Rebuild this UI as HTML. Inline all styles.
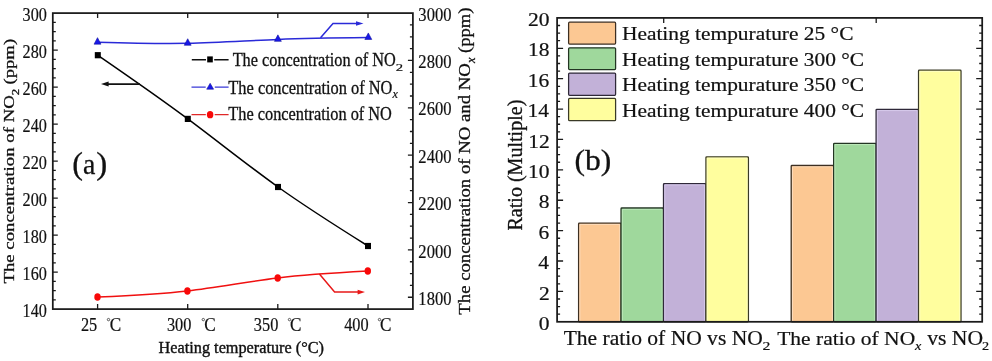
<!DOCTYPE html>
<html><head><meta charset="utf-8"><style>
html,body{margin:0;padding:0;background:#fff;width:992px;height:361px;overflow:hidden}
svg{display:block;will-change:transform}
text{font-family:"Liberation Serif",serif;font-kerning:none;stroke:#111;stroke-width:0.2px}
</style></head><body>
<svg width="992" height="361" viewBox="0 0 992 361">
<rect width="992" height="361" fill="#fff"/>
<path d="M52.8,22.35h3 M52.8,31.6h3 M52.8,40.85h3 M52.8,50.1h5 M52.8,59.35h3 M52.8,68.6h3 M52.8,77.85h3 M52.8,87.1h5 M52.8,96.35h3 M52.8,105.6h3 M52.8,114.85h3 M52.8,124.1h5 M52.8,133.35h3 M52.8,142.6h3 M52.8,151.85h3 M52.8,161.1h5 M52.8,170.35h3 M52.8,179.6h3 M52.8,188.85h3 M52.8,198.1h5 M52.8,207.35h3 M52.8,216.6h3 M52.8,225.85h3 M52.8,235.1h5 M52.8,244.35h3 M52.8,253.6h3 M52.8,262.85h3 M52.8,272.1h5 M52.8,281.35h3 M52.8,290.6h3 M52.8,299.85h3 M412.9,24.94h-3 M412.9,36.78h-3 M412.9,48.62h-3 M412.9,60.46h-5 M412.9,72.3h-3 M412.9,84.14h-3 M412.9,95.98h-3 M412.9,107.82h-5 M412.9,119.66h-3 M412.9,131.5h-3 M412.9,143.34h-3 M412.9,155.18h-5 M412.9,167.02h-3 M412.9,178.86h-3 M412.9,190.7h-3 M412.9,202.54h-5 M412.9,214.38h-3 M412.9,226.22h-3 M412.9,238.06h-3 M412.9,249.9h-5 M412.9,261.74h-3 M412.9,273.58h-3 M412.9,285.42h-3 M412.9,297.26h-5 M97.6,309.1v-5 M97.6,13.1v5 M187.7,309.1v-5 M187.7,13.1v5 M277.8,309.1v-5 M277.8,13.1v5 M368,309.1v-5 M368,13.1v5" stroke="#1a1a1a" stroke-width="1.3" fill="none"/>
<path d="M97.8,55.2 C127.8,75.86 157.8,96.51 187.8,118.9 C217.87,141.34 247.93,165.51 278,187 C308,208.44 338,227.22 368,246" stroke="#000" stroke-width="1.5" fill="none"/>
<path d="M97.5,42.2 C127.57,43.06 157.63,43.91 187.7,43.3 C217.77,42.69 247.83,40.61 277.9,39.4 C308.03,38.19 338.17,37.84 368.3,37.5" stroke="#2a2ad8" stroke-width="1.5" fill="none"/>
<path d="M97.5,297 C127.47,295.71 157.43,294.42 187.4,290.9 C217.5,287.37 247.6,281.59 277.7,277.9 C307.73,274.22 337.77,272.61 367.8,271" stroke="#f01010" stroke-width="1.5" fill="none"/>
<rect x="94.8" y="52.1" width="6" height="6.2" fill="#000"/>
<rect x="184.8" y="115.8" width="6" height="6.2" fill="#000"/>
<rect x="275" y="183.9" width="6" height="6.2" fill="#000"/>
<rect x="365" y="242.9" width="6" height="6.2" fill="#000"/>
<path d="M97.5,37.65 L100.95,44.15 L94.05,44.15Z" fill="#1818e8" stroke="#1010a0" stroke-width="0.6" stroke-linejoin="round"/>
<path d="M187.7,38.75 L191.15,45.25 L184.25,45.25Z" fill="#1818e8" stroke="#1010a0" stroke-width="0.6" stroke-linejoin="round"/>
<path d="M277.9,34.85 L281.35,41.35 L274.45,41.35Z" fill="#1818e8" stroke="#1010a0" stroke-width="0.6" stroke-linejoin="round"/>
<path d="M368.3,32.95 L371.75,39.45 L364.85,39.45Z" fill="#1818e8" stroke="#1010a0" stroke-width="0.6" stroke-linejoin="round"/>
<ellipse cx="97.5" cy="297" rx="3.2" ry="3.75" fill="#f80808"/>
<ellipse cx="187.4" cy="290.9" rx="3.2" ry="3.75" fill="#f80808"/>
<ellipse cx="277.7" cy="277.9" rx="3.2" ry="3.75" fill="#f80808"/>
<ellipse cx="367.8" cy="271" rx="3.2" ry="3.75" fill="#f80808"/>
<path d="M139.9,84.1H107" stroke="#111" stroke-width="1.8" fill="none"/>
<path d="M101,84.1 L108.6,81.6 L108.6,86.6Z" fill="#111"/>
<path d="M320.5,37.7 L333,23.5 H357" stroke="#2a2ad8" stroke-width="1.5" fill="none"/>
<path d="M363.5,23.5 L356,21.3 L356,25.7Z" fill="#2a2ad8"/>
<path d="M319.4,273.9 L334.6,292.1 H358" stroke="#e81818" stroke-width="1.5" fill="none"/>
<path d="M365,292.1 L357.6,289.8 L357.6,294.4Z" fill="#e81818"/>
<path d="M191.8,59.8H206 M214.2,59.8H228.6" stroke="#111" stroke-width="1.4"/>
<rect x="207.2" y="56.4" width="5.6" height="6.0" fill="#000"/>
<path d="M191.5,87.1H205.7 M214.8,87.1H228.6" stroke="#3a3ad8" stroke-width="1.4"/>
<path d="M210.15,83.3 L213.6,89.2 L206.7,89.2Z" fill="#1818e8" stroke="#1010a0" stroke-width="0.6" stroke-linejoin="round"/>
<path d="M191.5,114.6H205.8 M214.7,114.6H228.6" stroke="#e02828" stroke-width="1.4"/>
<ellipse cx="210.1" cy="114.65" rx="3.25" ry="3.65" fill="#f80808"/>
<rect x="52.8" y="13.1" width="360.1" height="296" stroke="#1a1a1a" stroke-width="1.75" fill="none"/>
<text transform="translate(22.57,20.7) scale(0.8257,1)" font-size="19.6" fill="#111">300</text>
<text transform="translate(22.57,57.7) scale(0.8257,1)" font-size="19.6" fill="#111">280</text>
<text transform="translate(22.57,94.7) scale(0.8257,1)" font-size="19.6" fill="#111">260</text>
<text transform="translate(22.57,131.7) scale(0.8257,1)" font-size="19.6" fill="#111">240</text>
<text transform="translate(22.57,168.7) scale(0.8257,1)" font-size="19.6" fill="#111">220</text>
<text transform="translate(22.57,205.7) scale(0.8257,1)" font-size="19.6" fill="#111">200</text>
<text transform="translate(22.57,242.7) scale(0.8257,1)" font-size="19.6" fill="#111">180</text>
<text transform="translate(22.57,279.7) scale(0.8257,1)" font-size="19.6" fill="#111">160</text>
<text transform="translate(22.57,316.7) scale(0.8257,1)" font-size="19.6" fill="#111">140</text>
<text transform="translate(418.36,20.7) scale(0.8446,1)" font-size="19.6" fill="#111">3000</text>
<text transform="translate(418.36,68.06) scale(0.8446,1)" font-size="19.6" fill="#111">2800</text>
<text transform="translate(418.36,115.42) scale(0.8446,1)" font-size="19.6" fill="#111">2600</text>
<text transform="translate(418.36,162.78) scale(0.8446,1)" font-size="19.6" fill="#111">2400</text>
<text transform="translate(418.36,210.14) scale(0.8446,1)" font-size="19.6" fill="#111">2200</text>
<text transform="translate(418.36,257.5) scale(0.8446,1)" font-size="19.6" fill="#111">2000</text>
<text transform="translate(418.36,304.86) scale(0.8446,1)" font-size="19.6" fill="#111">1800</text>
<text transform="translate(80.93,331.4) scale(0.8415,1)" font-size="19.4" fill="#111">25</text>
<text transform="translate(109.71,331.4) scale(0.8862,1)" font-size="19.4" fill="#111">C</text>
<circle cx="108.5" cy="319.6" r="1.2" stroke="#555" stroke-width="1" fill="none"/>
<text transform="translate(166.97,331.4) scale(0.8415,1)" font-size="19.4" fill="#111">300</text>
<text transform="translate(204.31,331.4) scale(0.8862,1)" font-size="19.4" fill="#111">C</text>
<circle cx="203.3" cy="319.6" r="1.2" stroke="#555" stroke-width="1" fill="none"/>
<text transform="translate(253.87,331.4) scale(0.8415,1)" font-size="19.4" fill="#111">350</text>
<text transform="translate(289.91,331.4) scale(0.8862,1)" font-size="19.4" fill="#111">C</text>
<circle cx="289.5" cy="319.6" r="1.2" stroke="#555" stroke-width="1" fill="none"/>
<text transform="translate(344.17,331.4) scale(0.8415,1)" font-size="19.4" fill="#111">400</text>
<text transform="translate(380.11,331.4) scale(0.8862,1)" font-size="19.4" fill="#111">C</text>
<circle cx="379.5" cy="319.6" r="1.2" stroke="#555" stroke-width="1" fill="none"/>
<text transform="translate(158.61,353.3) scale(0.9563,1)" font-size="17" style="stroke-width:0.4px" fill="#111">Heating temperature (°C)</text>
<text transform="translate(232.67,66) scale(0.8851,1)" font-size="18.4" style="stroke-width:0.3px" fill="#111">The concentration of NO</text>
<text transform="translate(395.64,70.8) scale(1.3170,1)" font-size="11.2" fill="#111">2</text>
<text transform="translate(228.37,93.5) scale(0.8900,1)" font-size="18.4" style="stroke-width:0.3px" fill="#111">The concentration of NO</text>
<text transform="translate(392.38,97.8) scale(0.9053,1)" font-size="13.5" font-style="italic" fill="#111">x</text>
<text transform="translate(228.37,120.4) scale(0.8878,1)" font-size="18.4" style="stroke-width:0.3px" fill="#111">The concentration of NO</text>
<text transform="translate(72.35,174.3) scale(1.0209,1)" font-size="31.5" style="stroke-width:0.3px" fill="#111">(</text>
<text transform="translate(83.03,174) scale(0.9603,1)" font-size="29" style="stroke-width:0.3px" fill="#111">a</text>
<text transform="translate(96.21,174.3) scale(1.0501,1)" font-size="31.5" style="stroke-width:0.3px" fill="#111">)</text>
<text transform="translate(14.3,283.58) rotate(-90) scale(1.1543,0.9400)" font-size="16.3" style="stroke-width:0.3px" fill="#111">The concentration of NO</text>
<text transform="translate(18.5,95.17) rotate(-90) scale(1.1384,1.0000)" font-size="11.2" style="stroke-width:0.3px" fill="#111">2</text>
<text transform="translate(14.3,84.54) rotate(-90) scale(1.1462,0.9400)" font-size="16.3" style="stroke-width:0.3px" fill="#111">(ppm)</text>
<text transform="translate(470.2,314.68) rotate(-90) scale(1.1169,0.9700)" font-size="16.8" style="stroke-width:0.3px" fill="#111">The concentration of NO and NO</text>
<text transform="translate(474.9,63.11) rotate(-90) scale(1.0370,1.0000)" font-size="12" font-style="italic" style="stroke-width:0.3px" fill="#111">x</text>
<text transform="translate(470.2,53.04) rotate(-90) scale(1.1096,0.9700)" font-size="16.8" style="stroke-width:0.3px" fill="#111">(ppm)</text>
<rect x="578.6" y="223.1" width="42.45" height="98.7" rx="0.8" fill="#FCC893" stroke="#3d2f22" stroke-width="1.3"/>
<path d="M579.9,320.8V224.4H619.75V320.8" fill="none" stroke="#fde0c4" stroke-width="0.8"/>
<rect x="621.05" y="208" width="42.45" height="113.8" rx="0.8" fill="#9FD89C" stroke="#233523" stroke-width="1.3"/>
<path d="M622.35,320.8V209.3H662.2V320.8" fill="none" stroke="#c4ecc2" stroke-width="0.8"/>
<rect x="663.5" y="183.6" width="42.45" height="138.2" rx="0.8" fill="#C2B1D8" stroke="#2e2838" stroke-width="1.3"/>
<path d="M664.8,320.8V184.9H704.65V320.8" fill="none" stroke="#dcd0f0" stroke-width="0.8"/>
<rect x="705.95" y="156.8" width="42.45" height="165" rx="0.8" fill="#FFFE9E" stroke="#3a3a26" stroke-width="1.3"/>
<path d="M707.25,320.8V158.1H747.1V320.8" fill="none" stroke="#ffffc8" stroke-width="0.8"/>
<rect x="791.2" y="165.5" width="42.45" height="156.3" rx="0.8" fill="#FCC893" stroke="#3d2f22" stroke-width="1.3"/>
<path d="M792.5,320.8V166.8H832.35V320.8" fill="none" stroke="#fde0c4" stroke-width="0.8"/>
<rect x="833.65" y="143.3" width="42.45" height="178.5" rx="0.8" fill="#9FD89C" stroke="#233523" stroke-width="1.3"/>
<path d="M834.95,320.8V144.6H874.8V320.8" fill="none" stroke="#c4ecc2" stroke-width="0.8"/>
<rect x="876.1" y="109.3" width="42.45" height="212.5" rx="0.8" fill="#C2B1D8" stroke="#2e2838" stroke-width="1.3"/>
<path d="M877.4,320.8V110.6H917.25V320.8" fill="none" stroke="#dcd0f0" stroke-width="0.8"/>
<rect x="918.55" y="70.1" width="42.45" height="251.7" rx="0.8" fill="#FFFE9E" stroke="#3a3a26" stroke-width="1.3"/>
<path d="M919.85,320.8V71.4H959.7V320.8" fill="none" stroke="#ffffc8" stroke-width="0.8"/>
<path d="M557.1,314.2h3 M982.2,314.2h-3 M557.1,306.61h3 M982.2,306.61h-3 M557.1,299.01h3 M982.2,299.01h-3 M557.1,291.41h6 M982.2,291.41h-6 M557.1,283.81h3 M982.2,283.81h-3 M557.1,276.22h3 M982.2,276.22h-3 M557.1,268.62h3 M982.2,268.62h-3 M557.1,261.02h6 M982.2,261.02h-6 M557.1,253.42h3 M982.2,253.42h-3 M557.1,245.82h3 M982.2,245.82h-3 M557.1,238.23h3 M982.2,238.23h-3 M557.1,230.63h6 M982.2,230.63h-6 M557.1,223.03h3 M982.2,223.03h-3 M557.1,215.44h3 M982.2,215.44h-3 M557.1,207.84h3 M982.2,207.84h-3 M557.1,200.24h6 M982.2,200.24h-6 M557.1,192.64h3 M982.2,192.64h-3 M557.1,185.04h3 M982.2,185.04h-3 M557.1,177.45h3 M982.2,177.45h-3 M557.1,169.85h6 M982.2,169.85h-6 M557.1,162.25h3 M982.2,162.25h-3 M557.1,154.65h3 M982.2,154.65h-3 M557.1,147.06h3 M982.2,147.06h-3 M557.1,139.46h6 M982.2,139.46h-6 M557.1,131.86h3 M982.2,131.86h-3 M557.1,124.26h3 M982.2,124.26h-3 M557.1,116.67h3 M982.2,116.67h-3 M557.1,109.07h6 M982.2,109.07h-6 M557.1,101.47h3 M982.2,101.47h-3 M557.1,93.87h3 M982.2,93.87h-3 M557.1,86.28h3 M982.2,86.28h-3 M557.1,78.68h6 M982.2,78.68h-6 M557.1,71.08h3 M982.2,71.08h-3 M557.1,63.49h3 M982.2,63.49h-3 M557.1,55.89h3 M982.2,55.89h-3 M557.1,48.29h6 M982.2,48.29h-6 M557.1,40.69h3 M982.2,40.69h-3 M557.1,33.09h3 M982.2,33.09h-3 M557.1,25.5h3 M982.2,25.5h-3 M663.7,17.9v5 M876.2,17.9v5" stroke="#1a1a1a" stroke-width="1.3" fill="none"/>
<rect x="568.6" y="22.2" width="47" height="21.9" rx="1" fill="#FCC893" stroke="#3d2f22" stroke-width="1.25"/>
<rect x="568.6" y="47.8" width="47" height="21.7" rx="1" fill="#9FD89C" stroke="#233523" stroke-width="1.25"/>
<rect x="568.6" y="73" width="47" height="22.3" rx="1" fill="#C2B1D8" stroke="#2e2838" stroke-width="1.25"/>
<rect x="568.6" y="98.4" width="47" height="22.3" rx="1" fill="#FFFE9E" stroke="#3a3a26" stroke-width="1.25"/>
<rect x="557.1" y="17.9" width="425.1" height="303.9" stroke="#1a1a1a" stroke-width="1.75" fill="none"/>
<text transform="translate(538.8,330) scale(1.1041,1)" font-size="19.5" fill="#111">0</text>
<text transform="translate(539.12,299.61) scale(1.1041,1)" font-size="19.5" fill="#111">2</text>
<text transform="translate(538.26,269.22) scale(1.1041,1)" font-size="19.5" fill="#111">4</text>
<text transform="translate(538.58,238.83) scale(1.1041,1)" font-size="19.5" fill="#111">6</text>
<text transform="translate(538.8,208.44) scale(1.1041,1)" font-size="19.5" fill="#111">8</text>
<text transform="translate(528.03,178.05) scale(1.1041,1)" font-size="19.5" fill="#111">10</text>
<text transform="translate(528.35,147.66) scale(1.1041,1)" font-size="19.5" fill="#111">12</text>
<text transform="translate(527.49,117.27) scale(1.1041,1)" font-size="19.5" fill="#111">14</text>
<text transform="translate(527.82,86.88) scale(1.1041,1)" font-size="19.5" fill="#111">16</text>
<text transform="translate(528.03,56.49) scale(1.1041,1)" font-size="19.5" fill="#111">18</text>
<text transform="translate(528.03,26.1) scale(1.1041,1)" font-size="19.5" fill="#111">20</text>
<text transform="translate(621.96,40.4) scale(1.1097,1)" font-size="19.3" fill="#111">Heating tempurature 25 °C</text>
<text transform="translate(621.96,66.3) scale(1.1097,1)" font-size="19.3" fill="#111">Heating tempurature 300 °C</text>
<text transform="translate(621.96,91.3) scale(1.1097,1)" font-size="19.3" fill="#111">Heating tempurature 350 °C</text>
<text transform="translate(621.96,116.6) scale(1.1097,1)" font-size="19.3" fill="#111">Heating tempurature 400 °C</text>
<text transform="translate(574.38,169.9) scale(1.0352,1)" font-size="30.5" style="stroke-width:0.3px" fill="#111">(b)</text>
<text transform="translate(521.6,230.5) rotate(-90) scale(1.0031,1.0000)" font-size="20" style="stroke-width:0.3px" fill="#111">Ratio (Multiple)</text>
<text transform="translate(563.67,345.3) scale(1.0827,1)" font-size="19.9" fill="#111">The ratio of NO vs NO</text>
<text transform="translate(762.59,350.2) scale(1.1667,1)" font-size="13.5" fill="#111">2</text>
<text transform="translate(777.17,345.2) scale(1.0818,1)" font-size="19.9" fill="#111">The ratio of NO</text>
<text transform="translate(915.01,349.6) scale(1.0940,1)" font-size="13" font-style="italic" fill="#111">x</text>
<text transform="translate(927.2,345.2) scale(1.0881,1)" font-size="19.9" fill="#111">vs NO</text>
<text transform="translate(982.06,349.6) scale(1.0795,1)" font-size="13.2" fill="#111">2</text>
</svg>
</body></html>
